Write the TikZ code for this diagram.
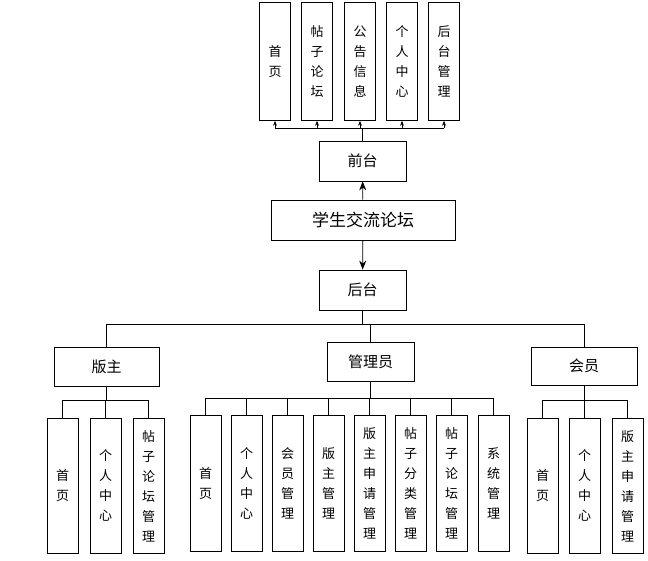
\documentclass[tikz,border=0pt]{standalone}
\usepackage{fontspec}
\newfontfamily\cjk{Noto Sans CJK SC}
\usetikzlibrary{arrows.meta}
\begin{document}
\begin{tikzpicture}[x=1pt,y=-1pt,
  box/.style={draw,thick,minimum width=#1,inner sep=0pt,font=\cjk\fontsize{15}{21}\selectfont,align=center},
  vbox/.style={draw,thick,anchor=north,minimum width=31pt,minimum height=#1,inner sep=0pt,font=\cjk\fontsize{13}{20}\selectfont,align=center},
  con/.style={thick},
  arr/.style={thick,-{Stealth[length=5pt,width=4pt]}},
  bigarr/.style={thick,-{Stealth[length=9pt,width=7pt]}}]
\useasboundingbox (0,0) rectangle (648,561);
% top
\foreach \n/\x/\t in {t1/275/首\\页,t2/317/帖\\子\\论\\坛,t3/360/公\\告\\信\\息,t4/402/个\\人\\中\\心,t5/444/后\\台\\管\\理}
  \node[vbox=118pt] (\n) at (\x,2) {\t};
\node[box=87pt,minimum height=40pt] (qt) at (362.5,161) {前台};
\node[box=184pt,minimum height=40pt,font=\cjk\fontsize{17}{21}\selectfont] (main) at (363,220) {学生交流论坛};
\node[box=87pt,minimum height=40pt] (ht) at (362.5,290) {后台};
\draw[bigarr] (main) -- (qt);
\draw[bigarr] (main) -- (ht);
\coordinate (tj) at (362.5,128);
\draw[con] (qt.north) -- (tj);
\draw[con] (t1.south |- tj) -- (t5.south |- tj);
\foreach \n in {t1,t2,t3,t4,t5} \draw[arr] (\n.south |- tj) -- (\n.south);
% level 2
\node[box=105pt,minimum height=39pt] (bz) at (106.5,366.5) {版主};
\node[box=87pt,minimum height=39pt] (gl) at (370.5,361.5) {管理员};
\node[box=106pt,minimum height=38pt] (hy) at (584,366) {会员};
\coordinate (hj) at (362.5,324);
\draw[con] (ht.south) -- (hj);
\draw[con] (bz.north |- hj) -- (hy.north |- hj);
\draw[con] (bz.north |- hj) -- (bz.north);
\draw[con] (gl.north |- hj) -- (gl.north);
\draw[con] (hy.north |- hj) -- (hy.north);
% 版主 children
\foreach \n/\x/\t in {b1/62.5/首\\页,b2/105.5/个\\人\\中\\心,b3/148.5/帖\\子\\论\\坛\\管\\理}
  \node[vbox=135pt] (\n) at (\x,418) {\t};
\coordinate (bj) at (106.5,400);
\draw[con] (bz.south) -- (bj);
\draw[con] (b1.north |- bj) -- (b3.north |- bj);
\foreach \n in {b1,b2,b3} \draw[con] (\n.north |- bj) -- (\n.north);
% 管理员 children
\foreach \n/\x/\t in {g1/205.5/首\\页,g2/246.5/个\\人\\中\\心,g3/287.5/会\\员\\管\\理,g4/328.5/版\\主\\管\\理,g5/369.5/版\\主\\申\\请\\管\\理,g6/410.5/帖\\子\\分\\类\\管\\理,g7/451.5/帖\\子\\论\\坛\\管\\理,g8/493.5/系\\统\\管\\理}
  \node[vbox=136pt] (\n) at (\x,415) {\t};
\coordinate (gj) at (370.5,398);
\draw[con] (gl.south) -- (gj);
\draw[con] (g1.north |- gj) -- (g8.north |- gj);
\foreach \n in {g1,g2,g3,g4,g5,g6,g7,g8} \draw[con] (\n.north |- gj) -- (\n.north);
% 会员 children
\foreach \n/\x/\t in {h1/542.5/首\\页,h2/584.5/个\\人\\中\\心,h3/627.5/版\\主\\申\\请\\管\\理}
  \node[vbox=135pt] (\n) at (\x,418) {\t};
\coordinate (hj2) at (584,400);
\draw[con] (hy.south) -- (hj2);
\draw[con] (h1.north |- hj2) -- (h3.north |- hj2);
\foreach \n in {h1,h2,h3} \draw[con] (\n.north |- hj2) -- (\n.north);
\end{tikzpicture}
\end{document}
